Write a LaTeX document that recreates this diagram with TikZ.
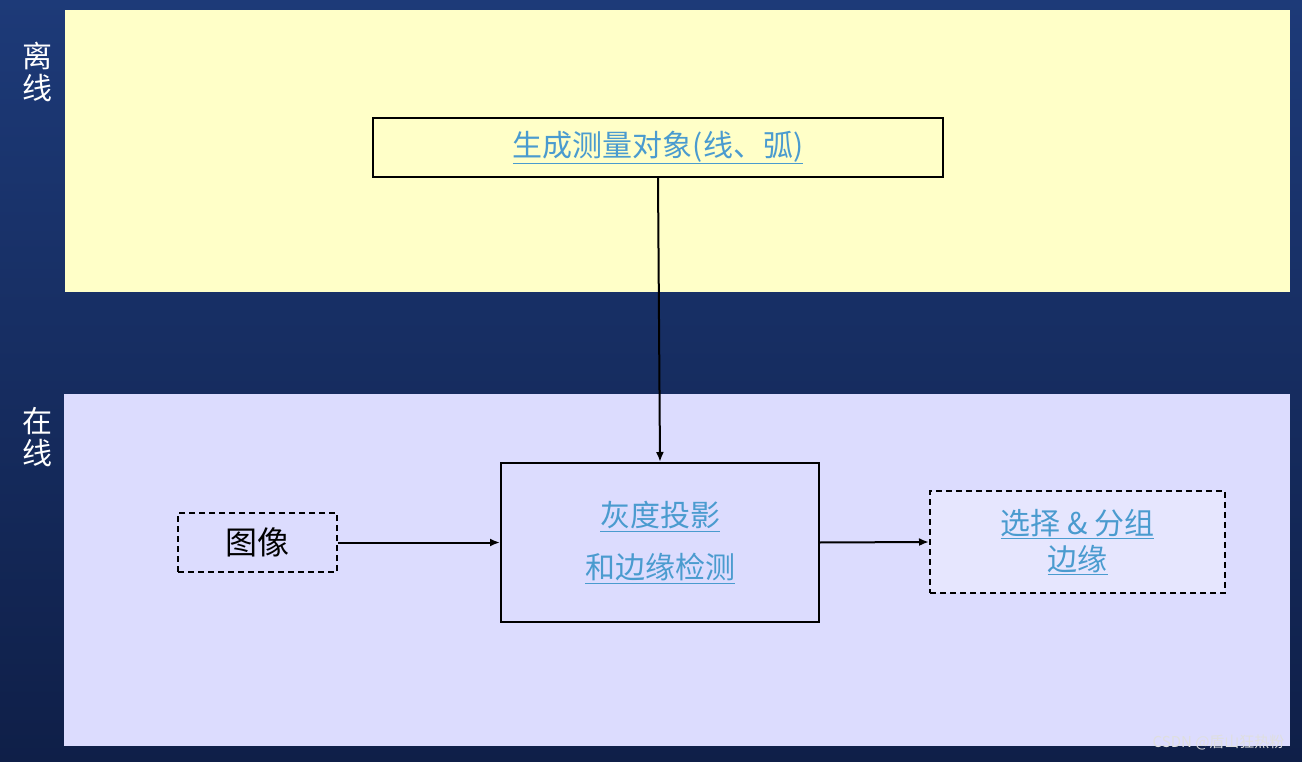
\documentclass[tikz,border=0pt]{standalone}
\usepackage{fontspec}
\setmainfont{Noto Sans CJK SC}
\usetikzlibrary{arrows.meta}
\definecolor{bgtop}{HTML}{1D3A78}
\definecolor{bgbot}{HTML}{0F1F48}
\definecolor{offl}{HTML}{FFFFC8}
\definecolor{onl}{HTML}{DCDCFE}
\definecolor{linkc}{HTML}{4A9BCF}
\newcommand{\ul}[1]{\underline{#1}}
\tikzset{
 solidbox/.style={draw=black,line width=2pt,inner sep=0pt},
 dashbox/.style={draw=black,line width=2pt,dashed,dash pattern=on 6pt off 4pt,inner sep=0pt},
 linktext/.style={text=linkc,font=\fontsize{30}{44}\selectfont,align=center},
 side/.style={text=white,font=\fontsize{30}{32}\selectfont,align=center},
 conn/.style={line width=2pt,-{Latex[length=10pt,width=8pt]}}
}
\begin{document}
\begin{tikzpicture}[x=1pt,y=-1pt]
\useasboundingbox (0,0) rectangle (1302,762);
\shade[top color=bgtop,bottom color=bgbot] (0,0) rectangle (1302,762);
\fill[offl] (65,10) rectangle (1290,292);
\fill[onl] (64,394) rectangle (1290,746);
\node[side] (lab1) at (38,72) {离\\线};
\node[side] (lab2) at (38,437) {在\\线};
\node[solidbox,minimum width=570pt,minimum height=59pt] (gen) at (658,147.5) {};
\node[linktext] (gent) at (gen.center) {\ul{生成测量对象(线、弧)}};
\node[solidbox,minimum width=318pt,minimum height=159pt] (proc) at (660,542.5) {};
\node[linktext] (proct) at (proc.center) {\ul{灰度投影}\\[8pt]\ul{和边缘检测}};
\node[dashbox,minimum width=159pt,minimum height=59pt] (img) at (257.5,542.5) {};
\node[text=black,font=\fontsize{32}{36}\selectfont] (imgt) at (img.center) {图像};
\node[dashbox,fill=onl!70!white,minimum width=295pt,minimum height=102pt] (sel) at (1077.5,542) {};
\node[linktext,font=\fontsize{30}{36}\selectfont] (selt) at (sel.center) {\ul{选择 \& 分组}\\\ul{边缘}};
\draw[conn] (gen.south) -- (proc.north);
\draw[conn] (img.east) -- (proc.west);
\draw[conn] (proc.east) -- (sel.west);
\node[text=white!75!gray,font=\fontsize{15}{16}\selectfont,anchor=east] (wm) at (1288,742) {CSDN @盾山狂热粉};
\end{tikzpicture}
\end{document}
